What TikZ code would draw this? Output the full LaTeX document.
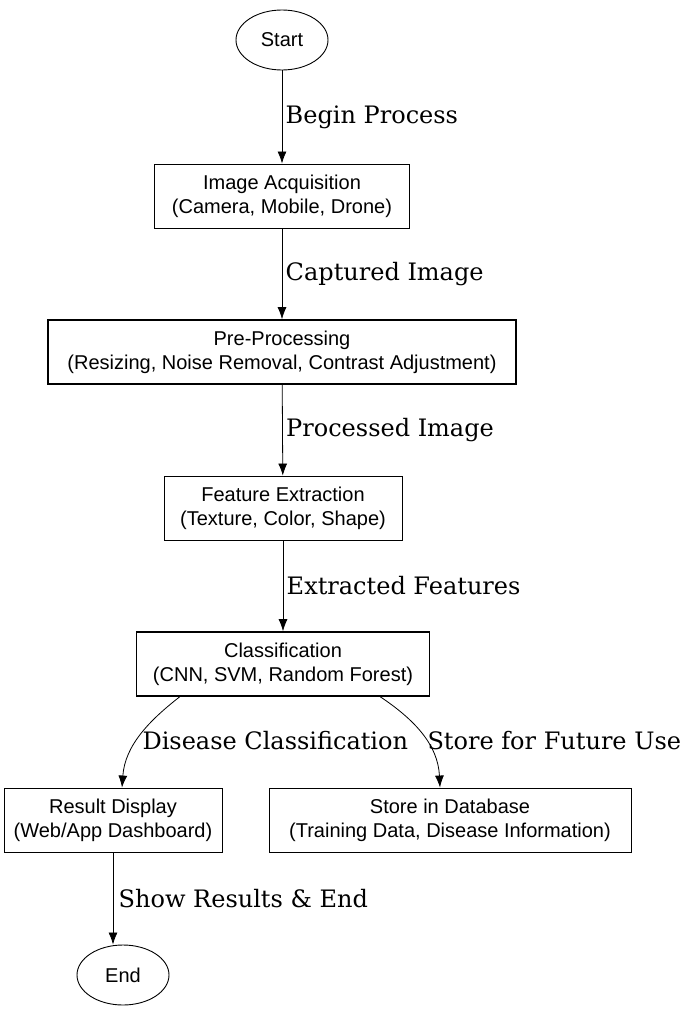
\documentclass[tikz,border=0pt]{standalone}
\usepackage{fontspec}
\setmainfont{Liberation Sans}
\newfontfamily\lblfont{DejaVu Serif}
\usetikzlibrary{shapes.geometric,arrows.meta}
\begin{document}
\begin{tikzpicture}[x=1pt,y=-1pt,
 box/.style={draw,line width=0.9pt,minimum height=64pt,align=center,font=\fontsize{20}{24}\selectfont,inner sep=0pt},
 tbox/.style={box,line width=1.6pt},
 oval/.style={draw,ellipse,line width=0.9pt,minimum width=92pt,minimum height=60pt,font=\fontsize{20}{24}\selectfont},
 arr/.style={-{Latex[length=12pt,width=9pt]},line width=0.8pt},
 lbl/.style={font=\lblfont\fontsize{24}{28}\selectfont,anchor=west}]
\useasboundingbox (0,0) rectangle (685,1017);
\node[oval] (start) at (282,40) {Start};
\node[box,minimum width=255pt] (acq) at (282,196) {Image Acquisition\\(Camera, Mobile, Drone)};
\node[tbox,minimum width=468pt] (pre) at (282,352) {Pre-Processing\\(Resizing, Noise Removal, Contrast Adjustment)};
\node[box,minimum width=238pt] (feat) at (283,508) {Feature Extraction\\(Texture, Color, Shape)};
\node[tbox,minimum width=293pt] (cls) at (283,664) {Classification\\(CNN, SVM, Random Forest)};
\node[box,minimum width=218pt] (res) at (113,820) {Result Display\\(Web/App Dashboard)};
\node[box,minimum width=362pt] (db) at (450,820) {Store in Database\\(Training Data, Disease Information)};
\node[oval] (end) at (123,975) {End};
\draw[arr] (start) -- (acq) node[lbl,midway] {Begin Process};
\draw[arr] (acq) -- (pre) node[lbl,midway] {Captured Image};
\draw[arr] (pre) -- (feat) node[lbl,midway] {Processed Image};
\draw[arr] (feat) -- (cls) node[lbl,midway] {Extracted Features};
\draw[arr] (cls.south west) ++(44,0) coordinate (c1) .. controls (150,720) and (125,745) .. (res.north -| 122,0);
\draw[arr] (cls.south east) ++(-50,0) coordinate (c2) .. controls (415,720) and (438,745) .. (db.north -| 440,0);
\node[lbl] (l1) at (139,741) {Disease Classification};
\node[lbl] (l2) at (424,741) {Store for Future Use};
\draw[arr] (res.south) -- (end.north -| res.south) node[lbl,midway,xshift=2pt] {Show Results \& End};
\end{tikzpicture}
\end{document}
